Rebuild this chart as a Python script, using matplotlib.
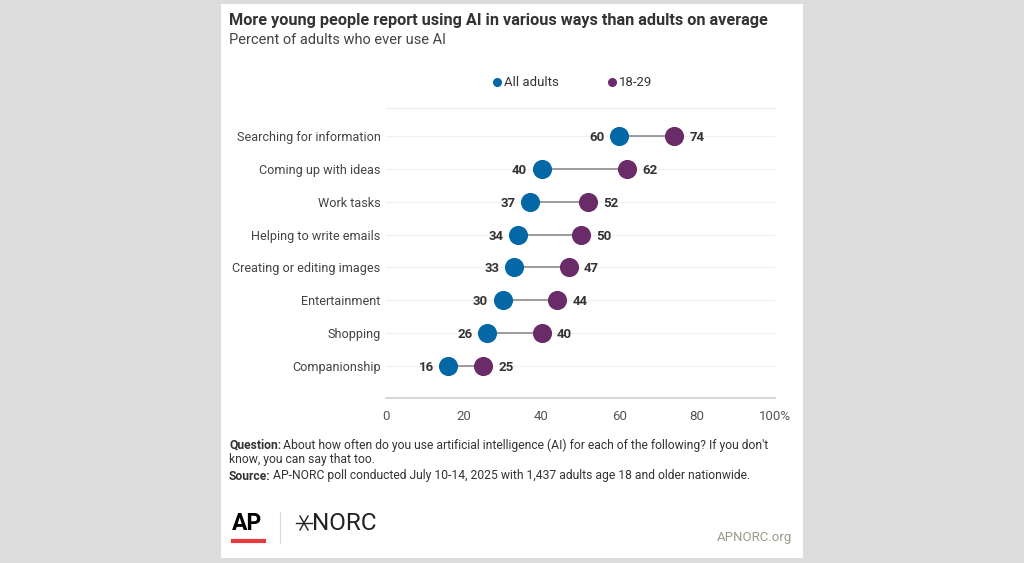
import matplotlib
matplotlib.use('Agg')
import matplotlib.pyplot as plt
from matplotlib.lines import Line2D
from matplotlib.patches import Rectangle

plt.rcParams['font.family'] = ['Roboto', 'DejaVu Sans']

# 数据
categories = ['Searching for information', 'Coming up with ideas', 'Work tasks',
              'Helping to write emails', 'Creating or editing images', 'Entertainment',
              'Shopping', 'Companionship']
all_adults = [60, 40, 37, 34, 33, 30, 26, 16]
young = [74, 62, 52, 50, 47, 44, 40, 25]
x_ticks = [0, 20, 40, 60, 80, 100]
x_tick_labels = ['0', '20', '40', '60', '80', '100%']
series_names = ['All adults', '18-29']

BLUE = '#0568a6'
PURPLE = '#6a2c68'
W, H = 1024, 563

fig = plt.figure(figsize=(W / 100, H / 100), dpi=100)
fig.patch.set_facecolor('#dcdcdc')
# 白色面板
fig.add_artist(Rectangle((221 / W, 1 - 558 / H), (803 - 221) / W, (558 - 4) / H,
                         transform=fig.transFigure, facecolor='white', edgecolor='none', zorder=0))

ax = fig.add_axes([386 / W, 1 - 398 / H, 389 / W, 290 / H])
ax.set_facecolor('none')
ypos = list(range(len(categories)))

for y, a, b in zip(ypos, all_adults, young):
    ax.axhline(y, color='#f0f0f0', lw=0.9, zorder=1)
    ax.plot([a, b], [y, y], color='#8c8c8c', lw=1.2, zorder=2)
    ax.annotate(str(a), (a, y), xytext=(-10.5, 0), textcoords='offset points',
                ha='right', va='center_baseline', fontsize=9.5, fontweight='bold', color='#333333')
    ax.annotate(str(b), (b, y), xytext=(11, 0), textcoords='offset points',
                ha='left', va='center_baseline', fontsize=9.5, fontweight='bold', color='#333333')

ax.scatter(all_adults, ypos, s=190, color=BLUE, zorder=3, linewidths=0)
ax.scatter(young, ypos, s=190, color=PURPLE, zorder=3, linewidths=0)

ax.set_xlim(0, 100)
ax.set_ylim(7.97, -0.85)
ax.set_yticks(ypos)
ax.set_yticklabels(categories, fontsize=9.1, color='#444444')
ax.set_xticks(x_ticks)
ax.set_xticklabels(x_tick_labels, fontsize=9.5, color='#555555')
ax.tick_params(axis='both', length=0)
ax.tick_params(axis='y', pad=4)
ax.tick_params(axis='x', pad=9)
for s in ['left', 'right']:
    ax.spines[s].set_visible(False)
ax.spines['top'].set_color('#eeeeee')
ax.spines['top'].set_linewidth(0.9)
ax.spines['bottom'].set_color('#d0d0d0')
ax.spines['bottom'].set_linewidth(1.2)

# 图例
for px, name, col in [(497, series_names[0], BLUE), (612, series_names[1], PURPLE)]:
    fig.add_artist(Line2D([px / W], [1 - 82 / H], marker='o', markersize=5.5, color=col,
                          linestyle='none', transform=fig.transFigure))
    fig.text((px + 7) / W, 1 - 82 / H, name, fontsize=9.5, color='#333333', va='center', ha='left')

# 标题
fig.text(229 / W, 1 - 20 / H, 'More young people report using AI in various ways than adults on average',
         fontsize=11.7, fontweight='bold', color='#333333', va='center', ha='left')
fig.text(229 / W, 1 - 40 / H, 'Percent of adults who ever use AI',
         fontsize=10.5, color='#444444', va='center', ha='left')

# 注释: 粗体前缀 + 正文
fs = 8.7
renderer = fig.canvas.get_renderer()
lines = [
    (445, 'Question:', "About how often do you use artificial intelligence (AI) for each of the following? If you don't"),
    (460, '', 'know, you can say that too.'),
    (476, 'Source:', 'AP-NORC poll conducted July 10-14, 2025 with 1,437 adults age 18 and older nationwide.'),
]
for py, head, body in lines:
    x0 = 229
    if head:
        t = fig.text(x0 / W, 1 - py / H, head, fontsize=fs, fontweight='bold', color='#333333', va='center')
        x0 = t.get_window_extent(renderer).x1 + 2
    fig.text(x0 / W, 1 - py / H, body, fontsize=fs, color='#333333', va='center')

# 标志
fig.text(232 / W, 1 - 523 / H, 'AP', fontsize=16.5, fontweight='bold', color='black', va='center', ha='left')
fig.add_artist(Line2D([233 / W, 264 / W], [1 - 541 / H, 1 - 541 / H], color='#e8393d', lw=3,
                      transform=fig.transFigure))
fig.add_artist(Line2D([280 / W, 280 / W], [1 - 512 / H, 1 - 543 / H], color='#d8d8d8', lw=0.8,
                      transform=fig.transFigure))
cx, cy, r = 304, 523, 8
for dx, dy in [(r, 0), (r * 0.5, r * 0.87), (r * 0.5, -r * 0.87)]:
    fig.add_artist(Line2D([(cx - dx) / W, (cx + dx) / W], [1 - (cy - dy) / H, 1 - (cy + dy) / H],
                          color='#222222', lw=1.0, transform=fig.transFigure))
fig.text(312 / W, 1 - 523 / H, 'NORC', fontsize=17.5, color='#222222', va='center', ha='left')
fig.text(792 / W, 1 - 538 / H, 'APNORC.org', fontsize=9.5, color='#9a9a8a', va='center', ha='right')

fig.savefig('out.png', dpi=100, facecolor=fig.get_facecolor())
